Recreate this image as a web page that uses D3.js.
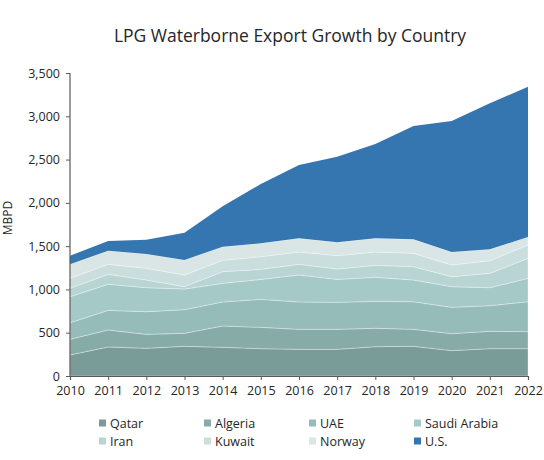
<!DOCTYPE html>
<html>
<head>
<meta charset="utf-8">
<script src="https://cdn.jsdelivr.net/npm/d3@7"></script>
<style>
  body { margin: 0; background: #fff; }
  text { font-family: "Open Sans", "Liberation Sans", sans-serif; fill: #262626; }
</style>
</head>
<body>
<div id="chart"></div>
<script>
'use strict';

// chart data (MBPD)
const years = ['2010', '2011', '2012', '2013', '2014', '2015', '2016', '2017', '2018', '2019', '2020', '2021', '2022'];
const countries = ['Qatar', 'Algeria', 'UAE', 'Saudi Arabia', 'Iran', 'Kuwait', 'Norway', 'U.S.'];

const qatar      = [243, 335, 320, 343, 331, 316, 308, 308, 339, 343, 293, 316, 316];
const algeria    = [181, 196, 161, 150, 247, 246, 231, 231, 212, 196, 196, 200, 196];
const uae        = [192, 227, 262, 273, 277, 323, 316, 312, 311, 319, 304, 296, 346];
const saudi      = [300, 301, 277, 239, 215, 231, 312, 265, 278, 251, 239, 208, 270];
const iran       = [97, 115, 89, 27, 135, 116, 123, 120, 138, 154, 115, 166, 231];
const kuwait     = [115, 116, 135, 135, 131, 146, 142, 154, 154, 154, 135, 146, 154];
const norway     = [162, 158, 165, 173, 158, 154, 158, 154, 158, 162, 150, 131, 92];
const us         = [100, 111, 165, 315, 468, 686, 847, 989, 1090, 1309, 1513, 1687, 1737];

const colours = ['#7a9c98', '#87aba7', '#95bcb9', '#a5c9c7', '#b8d5d4', '#c9dedd', '#d9e6e5', '#3676b0'];
const yTicks = [0, 500, 1000, 1500, 2000, 2500, 3000, 3500];

const config = {
    width: 544,
    height: 460,
    margin: { top: 73, right: 16, bottom: 84, left: 70 }
};

const rows = years.map((y, i) => ({
    year: y,
    'Qatar': qatar[i],
    'Algeria': algeria[i],
    'UAE': uae[i],
    'Saudi Arabia': saudi[i],
    'Iran': iran[i],
    'Kuwait': kuwait[i],
    'Norway': norway[i],
    'U.S.': us[i]
}));

const svg = d3.select('#chart')
    .append('svg')
    .attr('width', config.width)
    .attr('height', config.height);

const plotW = config.width - config.margin.left - config.margin.right;
const plotH = config.height - config.margin.top - config.margin.bottom;

const xScale = d3.scalePoint()
    .domain(years)
    .range([config.margin.left, config.margin.left + plotW]);

const yScale = d3.scaleLinear()
    .domain([0, 3500])
    .range([config.margin.top + plotH, config.margin.top]);

const colourMap = d3.scaleOrdinal().domain(countries).range(colours);

// areas
const series = d3.stack().keys(countries)(rows);

const area = d3.area()
    .x(d => xScale(d.data.year))
    .y0(d => yScale(d[0]))
    .y1(d => yScale(d[1]));

svg.append('g')
    .attr('class', 'areas')
    .selectAll('path')
    .data(series)
    .enter()
    .append('path')
    .attr('d', area)
    .attr('fill', d => colourMap(d.key))
    .attr('stroke', d => d.key === 'U.S.' ? 'none' : '#ffffff')
    .attr('stroke-opacity', 0.45)
    .attr('stroke-width', 0.7);

// axes
const yAxis = d3.axisLeft(yScale)
    .tickValues(yTicks)
    .tickSize(4)
    .tickPadding(6)
    .tickFormat(d3.format(','));

const yG = svg.append('g')
    .attr('transform', 'translate(' + config.margin.left + ',0)')
    .call(yAxis);

const xAxis = d3.axisBottom(xScale)
    .tickSize(4)
    .tickPadding(6);

const xG = svg.append('g')
    .attr('transform', 'translate(0,' + (config.margin.top + plotH) + ')')
    .call(xAxis);

[yG, xG].forEach(g => {
    g.select('.domain').attr('stroke', '#595959').attr('stroke-width', 1.2);
    g.selectAll('.tick line').attr('stroke', '#595959');
    g.selectAll('.tick text')
        .style('font-family', '"Open Sans", sans-serif')
        .style('font-size', '12.5px')
        .attr('fill', '#262626');
});
yG.select('.domain').attr('d', 'M0,' + (config.margin.top + plotH) + 'V' + config.margin.top);

// title
svg.append('text')
    .attr('x', 290)
    .attr('y', 42)
    .attr('text-anchor', 'middle')
    .style('font-size', '17.5px')
    .text('LPG Waterborne Export Growth by Country');

// y label
svg.append('text')
    .attr('transform', 'translate(12,218) rotate(-90)')
    .attr('text-anchor', 'middle')
    .style('font-size', '12px')
    .text('MBPD');

// legend
const legendX = [99, 204, 309, 414];
const legendY = [423, 441];

const legend = svg.append('g')
    .attr('class', 'legend')
    .selectAll('g')
    .data(countries)
    .enter()
    .append('g')
    .attr('transform', (d, i) => 'translate(' + legendX[i % 4] + ',' + legendY[Math.floor(i / 4)] + ')');

legend.append('rect')
    .attr('x', 0)
    .attr('y', -3.5)
    .attr('width', 7)
    .attr('height', 7)
    .attr('fill', d => colourMap(d));

legend.append('text')
    .attr('x', 11)
    .attr('y', 4.5)
    .style('font-size', '12.5px')
    .text(d => d);
</script>
</body>
</html>
